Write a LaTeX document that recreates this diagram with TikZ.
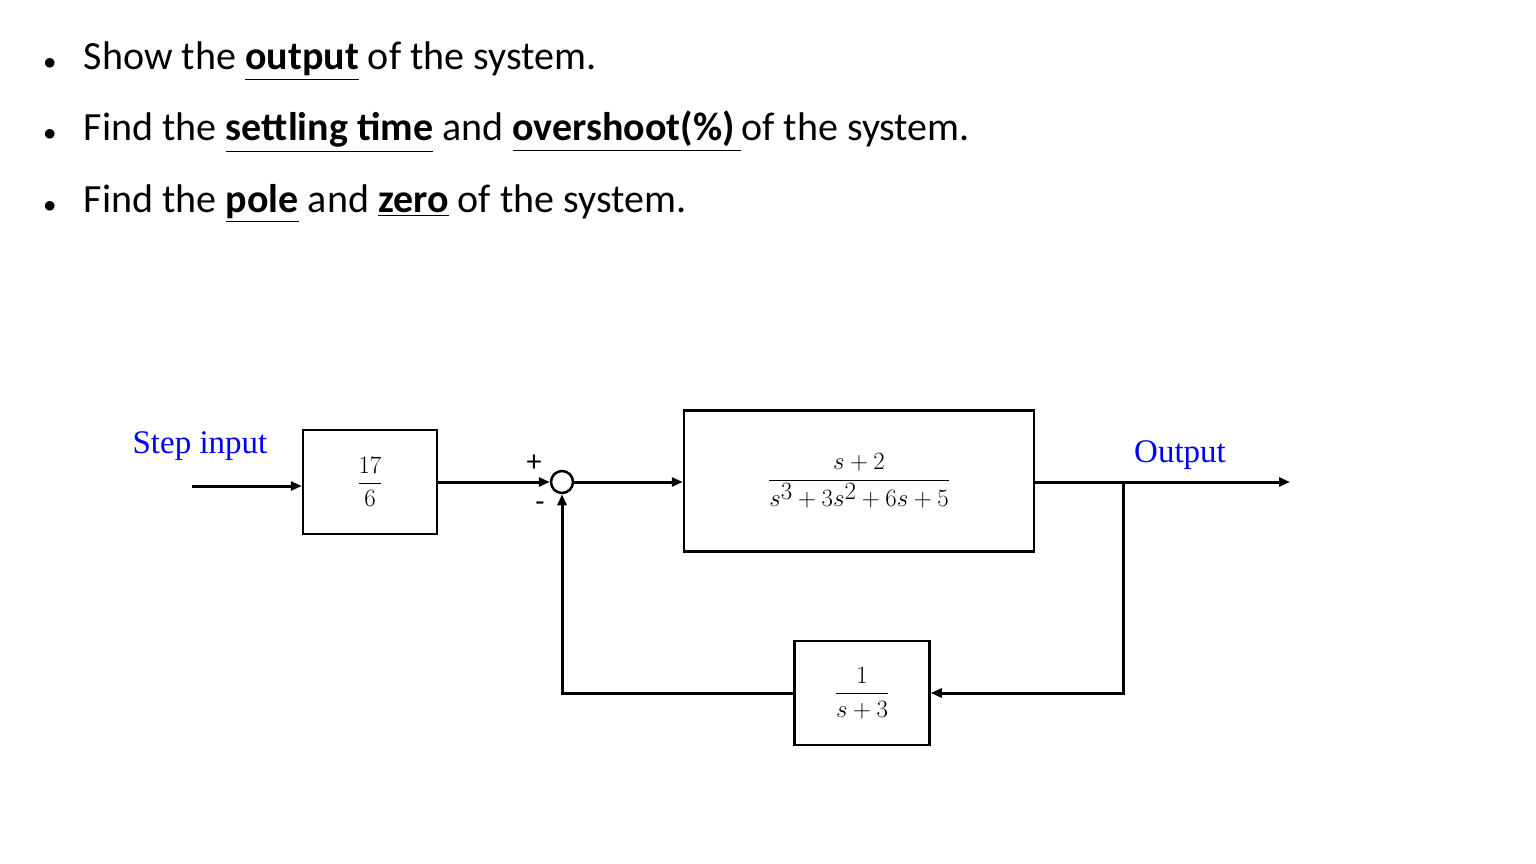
\documentclass[tikz,border=0pt]{standalone}
\usepackage{amsmath}
\usepackage{fontspec}
\setmainfont{Carlito}
\newfontfamily\tms{Liberation Serif}
\usetikzlibrary{arrows.meta}
\begin{document}
\begin{tikzpicture}[x=1pt,y=-1pt,
  blk/.style={draw,line width=2.5pt,minimum width=#1,inner sep=0pt},
  ln/.style={line width=3pt},
  arr/.style={line width=3pt,-{Triangle[length=11pt,width=9pt]}},
  bl/.style={anchor=base west,font=\fontsize{40}{48}\selectfont},
  lab/.style={font=\tms\fontsize{33}{40}\selectfont,text=blue}]
\useasboundingbox (0,0) rectangle (1536,864);
\node[bl] (b1) at (40,70) {$\bullet$\hspace{28pt}Show the \textbf{\underline{output}} of the system.};
\node[bl] (b2) at (40,141) {$\bullet$\hspace{28pt}Find the \textbf{\underline{settling time}} and \textbf{\underline{overshoot(\%)\,}}of the system.};
\node[bl] (b3) at (40,212) {$\bullet$\hspace{28pt}Find the \textbf{\underline{pole}} and \textbf{\underline{zero}} of the system.};
\node[blk=134pt,minimum height=104pt] (g1) at (370,482) {\fontsize{34}{40}\selectfont$\dfrac{17}{6}$};
\node[blk=350pt,minimum height=141pt] (g2) at (859,481) {\fontsize{34}{40}\selectfont$\dfrac{s+2}{s^3+3s^2+6s+5}$};
\node[blk=135pt,minimum height=104pt] (h) at (862,693) {\fontsize{34}{40}\selectfont$\dfrac{1}{s+3}$};
\node[draw,circle,line width=2.5pt,minimum size=22pt,inner sep=0pt] (sum) at (562,482) {};
\coordinate (in) at (192,486);
\coordinate (br) at (1123,482);
\coordinate (out) at (1290,482);
\draw[arr] (in) -- (in -| g1.west);
\draw[arr] (g1.east |- sum) -- (sum.west);
\draw[arr] (sum.east) -- (sum -| g2.west);
\draw[ln] (g2.east |- br) -- (br);
\draw[arr] (br) -- (out);
\draw[arr] (br) |- (h.east);
\draw[arr] (h.west) -| (sum.south);
\node[font=\fontsize{30}{36}\selectfont] (p) at (534,463) {+};
\node[font=\fontsize{30}{36}\selectfont] (m) at (540,507) {-};
\node[lab] (si) at (200,446) {Step input};
\node[lab] (ot) at (1180,455) {Output};
\end{tikzpicture}
\end{document}
